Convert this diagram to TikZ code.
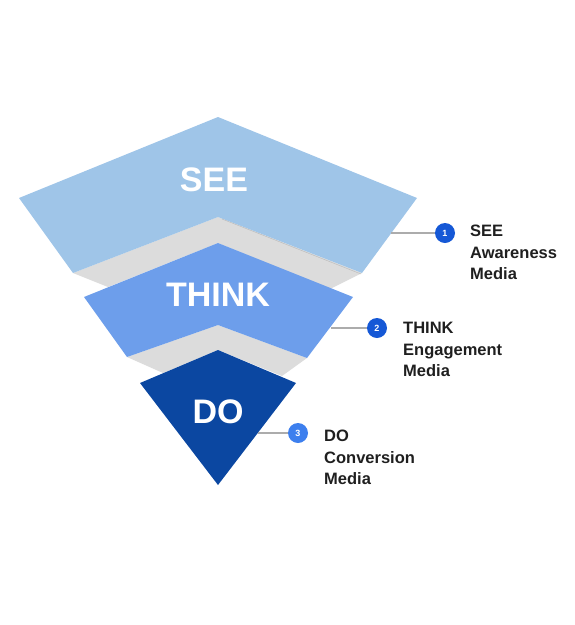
\documentclass[tikz,border=0pt]{standalone}
\usepackage{fontspec}
\setmainfont{Liberation Sans}
\usetikzlibrary{
  calc
}
\definecolor{seeblue}{HTML}{9FC5E8}
\definecolor{thinkblue}{HTML}{6D9EEB}
\definecolor{doblue}{HTML}{0B47A1}
\definecolor{band}{HTML}{DCDCDC}
\definecolor{dotdark}{HTML}{1558D6}
\definecolor{dotlight}{HTML}{3D7FEE}
\tikzset{
  stage label/.style={font=\bfseries\fontsize{34}{36}\selectfont,text=white,inner sep=0pt},
  stage dot/.style={circle,minimum size=20pt,inner sep=0pt,text=white,
    font=\bfseries\fontsize{9}{9}\selectfont},
  stage line/.style={draw=gray!65,line width=1.5pt},
  stage text/.style={anchor=north west,inner sep=0pt,align=left,text=black!88,
    font=\bfseries\fontsize{16.5}{21.5}\selectfont},
}

\begin{document}
\begin{tikzpicture}[x=1pt,y=-1pt]
\useasboundingbox (0,0) rectangle (575,625);
% bands behind the levels
\fill[band] (73,273) -- (218,217) -- (362,273) -- (330,289) -- (218,243) -- (108,287) -- cycle;
\fill[band] (127,357) -- (218,325) -- (307,358) -- (282,376) -- (218,350) -- (163,373) -- cycle;
% funnel levels
\fill[seeblue] (218,117) -- (417,198) -- (362,273) -- (218,217) -- (73,273) -- (19,198) -- cycle;
\draw[gray!55,thin] (222,219) -- (361,274);
\fill[thinkblue] (218,243) -- (353,297) -- (307,358) -- (218,325) -- (127,357) -- (84,297) -- cycle;
\fill[doblue] (218,350) -- (296,383) -- (218,485) -- (140,383) -- cycle;
\node[stage label] (see) at (214,180) {SEE};
\node[stage label] (think) at (218,295) {THINK};
\node[stage label] (do) at (218,412) {DO};
% callouts
\coordinate (e1) at (391,233);
\coordinate (e2) at (331,328);
\coordinate (e3) at (258,433);
\node[stage dot,fill=dotdark] (n1) at (445,233) {1};
\node[stage dot,fill=dotdark] (n2) at (377,328) {2};
\node[stage dot,fill=dotlight] (n3) at (298,433) {3};
\draw[stage line] (e1) -- (n1);
\draw[stage line] (e2) -- (n2);
\draw[stage line] (e3) -- (n3);
\node[stage text] (t1) at (470,225) {SEE\\Awareness\\Media};
\node[stage text] (t2) at (403,322) {THINK\\Engagement\\Media};
\node[stage text] (t3) at (324,430) {DO\\Conversion\\Media};
\end{tikzpicture}
\end{document}
